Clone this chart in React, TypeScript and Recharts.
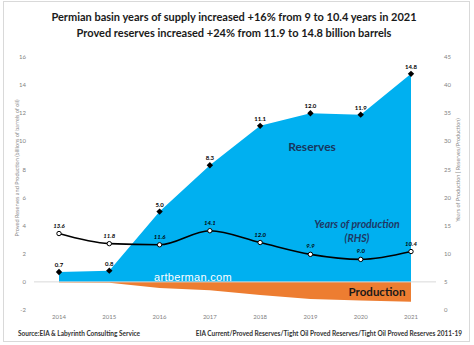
import React from "react";
import {
  ComposedChart,
  Area,
  Line,
  XAxis,
  YAxis,
  ReferenceLine,
  LabelList,
} from "recharts";

const years = ["2014", "2015", "2016", "2017", "2018", "2019", "2020", "2021"];
const reserves = [0.7, 0.8, 5.0, 8.3, 11.1, 12.0, 11.9, 14.8];
const production = [-0.05, -0.07, -0.43, -0.59, -0.93, -1.21, -1.32, -1.42];
const yearsOfSupply = [13.6, 11.8, 11.6, 14.1, 12.0, 9.9, 9.0, 10.4];
const leftTicks = [-2, 0, 2, 4, 6, 8, 10, 12, 14, 16];
const rightTicks = [0, 5, 10, 15, 20, 25, 30, 35, 40, 45];

const data = years.map((year, i) => ({
  year,
  reserves: reserves[i],
  production: production[i],
  supply: yearsOfSupply[i],
}));

const FONT = "Lato, 'Open Sans', sans-serif";

function Diamond(props: any) {
  const { cx, cy, index } = props;
  if (cx == null || cy == null) return null;
  return (
    <path
      key={`d-${index}`}
      d={`M${cx},${cy - 3.2}L${cx + 3.2},${cy}L${cx},${cy + 3.2}L${cx - 3.2},${cy}Z`}
      fill="#000"
    />
  );
}

const abs = (style: React.CSSProperties): React.CSSProperties => ({
  position: "absolute",
  whiteSpace: "nowrap",
  ...style,
});

export default function App() {
  return (
    <div
      style={{
        position: "fixed",
        left: 0,
        top: 0,
        width: 474,
        height: 345,
        background: "#fff",
        fontFamily: FONT,
      }}
    >
      <div
        style={abs({
          left: 3,
          top: 1,
          width: 465,
          height: 339,
          border: "1px solid #d9d9d9",
        })}
      />
      <div
        style={abs({
          left: 0,
          top: 9,
          width: 468,
          textAlign: "center",
          fontSize: 11,
          fontWeight: 700,
          lineHeight: "16px",
          color: "#1a1a1a",
        })}
      >
        Permian basin years of supply increased +16% from 9 to 10.4 years in 2021
        <br />
        Proved reserves increased +24% from 11.9 to 14.8 billion barrels
      </div>

      <ComposedChart
        width={474}
        height={345}
        data={data}
        margin={{ top: 57, right: 0, bottom: 0, left: 0 }}
        style={{ position: "absolute", left: 0, top: 0 }}
      >
        <XAxis
          dataKey="year"
          scale="point"
          padding={{ left: 25, right: 25 }}
          height={35}
          axisLine={false}
          tickLine={false}
          tickSize={5}
          tickMargin={0}
          tick={{ fontSize: 6, fill: "#7f7f7f" }}
        />
        <YAxis
          yAxisId="left"
          domain={[-2, 16]}
          ticks={leftTicks}
          width={34}
          axisLine={false}
          tickLine={false}
          tick={{ fontSize: 6, fill: "#7f7f7f" }}
        />
        <YAxis
          yAxisId="right"
          orientation="right"
          domain={[0, 45]}
          ticks={rightTicks}
          width={38}
          axisLine={false}
          tickLine={false}
          tick={{ fontSize: 6, fill: "#7f7f7f", textAnchor: "start" }}
        />
        <ReferenceLine yAxisId="left" y={0} stroke="#d9d9d9" strokeWidth={1} />
        <Area
          yAxisId="left"
          type="linear"
          dataKey="production"
          baseValue={0}
          fill="#ED7D31"
          fillOpacity={1}
          stroke="none"
          isAnimationActive={false}
        />
        <Area
          yAxisId="left"
          type="linear"
          dataKey="reserves"
          baseValue={0}
          fill="#00B0F0"
          fillOpacity={1}
          stroke="none"
          dot={Diamond}
          activeDot={false}
          isAnimationActive={false}
        >
          <LabelList
            dataKey="reserves"
            position="top"
            offset={5}
            formatter={(v: any) => Number(v).toFixed(1)}
            fontSize={6}
            fontWeight={700}
            fill="#000"
          />
        </Area>
        <Line
          yAxisId="right"
          type="monotone"
          dataKey="supply"
          stroke="#000"
          strokeWidth={1.6}
          dot={{ r: 2.2, fill: "#fff", stroke: "#000", strokeWidth: 1 }}
          activeDot={false}
          isAnimationActive={false}
        >
          <LabelList
            dataKey="supply"
            position="top"
            offset={6}
            formatter={(v: any) => Number(v).toFixed(1)}
            fontSize={6}
            fontWeight={700}
            fontStyle="italic"
            fill="#000"
          />
        </Line>
      </ComposedChart>

      <div
        style={abs({
          left: 17,
          top: 168,
          transform: "translate(-50%, -50%) rotate(-90deg)",
          fontSize: 5.5,
          color: "#8c8c8c",
        })}
      >
        Proved Reserves and Production (billions of barrels of oil)
      </div>
      <div
        style={abs({
          left: 458,
          top: 170,
          transform: "translate(-50%, -50%) rotate(-90deg)",
          fontSize: 5.5,
          color: "#8c8c8c",
        })}
      >
        Years of Production [ Reserves/Production)
      </div>

      <div
        style={abs({
          left: 312,
          top: 146,
          transform: "translate(-50%, -50%)",
          fontSize: 12,
          fontWeight: 700,
          color: "#17375E",
        })}
      >
        Reserves
      </div>
      <div
        style={abs({
          left: 357,
          top: 231,
          transform: "translate(-50%, -50%)",
          fontSize: 10.5,
          fontWeight: 700,
          fontStyle: "italic",
          color: "#1F3864",
          textAlign: "center",
          lineHeight: "14px",
        })}
      >
        Years of production
        <br />
        (RHS)
      </div>
      <div
        style={abs({
          left: 193,
          top: 277,
          transform: "translate(-50%, -50%)",
          fontSize: 11,
          fontFamily: "'Liberation Sans', Arial, sans-serif",
          color: "#fff",
          letterSpacing: 0.3,
        })}
      >
        artberman.com
      </div>
      <div
        style={abs({
          left: 377,
          top: 291,
          transform: "translate(-50%, -50%)",
          fontSize: 11.5,
          fontWeight: 700,
          color: "#1a1a1a",
        })}
      >
        Production
      </div>

      <div
        style={abs({
          left: 18,
          top: 333,
          transform: "translateY(-50%)",
          fontSize: 6.5,
          fontWeight: 700,
          color: "#333",
        })}
      >
        Source:EIA &amp; Labyrinth Consulting Service
      </div>
      <div
        style={abs({
          right: 12,
          top: 333,
          transform: "translateY(-50%)",
          fontSize: 6.5,
          fontWeight: 700,
          color: "#333",
        })}
      >
        EIA Current/Proved Reserves/Tight Oil Proved Reserves/Tight Oil Proved Reserves 2011-19
      </div>
    </div>
  );
}
